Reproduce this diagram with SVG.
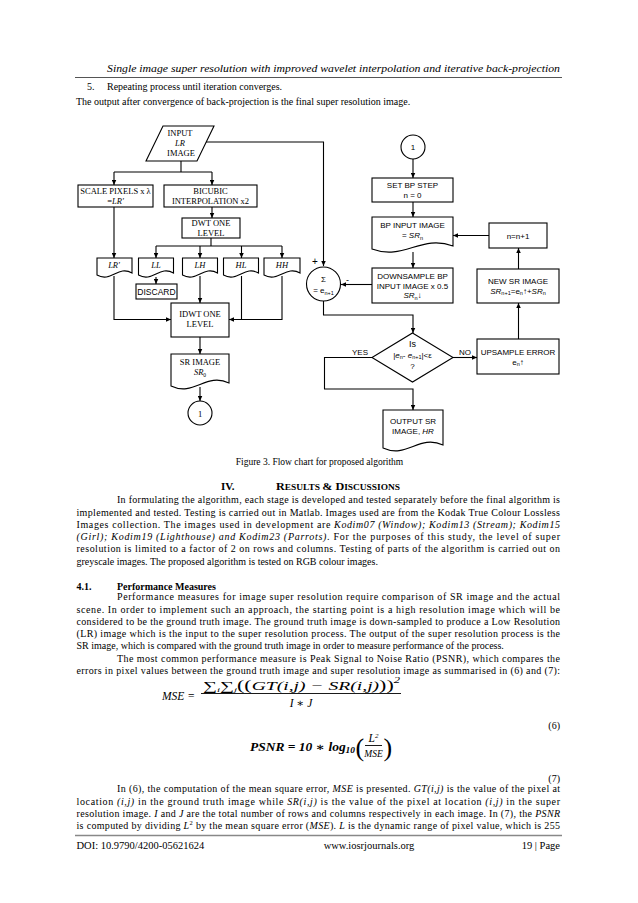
<svg xmlns="http://www.w3.org/2000/svg" width="638" height="903" viewBox="0 0 638 903">
<defs>
<marker id="ah" viewBox="0 0 10 10" refX="10" refY="5" markerWidth="5" markerHeight="5" orient="auto" markerUnits="userSpaceOnUse"><path d="M0,0.5 L10,5 L0,9.5 z" fill="#000"/></marker>
<style>
.s{fill:#fff;stroke:#000;stroke-width:1.1}
.c{fill:none;stroke:#000;stroke-width:1.1}
.a{marker-end:url(#ah)}
.t{font-family:"Liberation Serif","Times New Roman",serif;font-size:10px;fill:#000}
.fs{font-family:"Liberation Serif","Times New Roman",serif;font-size:8.5px;text-anchor:middle;fill:#000}
.fa{font-family:"Liberation Sans",Arial,sans-serif;font-size:8px;text-anchor:middle;fill:#000}
.eq{font-family:"Liberation Serif","DejaVu Serif",serif;font-size:11.5px;fill:#000}
.i{font-style:italic}
.b{font-weight:bold}
.sub{font-size:5.5px}
</style>
</defs>
<rect width="638" height="903" fill="#fff"/>

<!-- page header -->
<g id="page-header">
<text class="t i" x="107" y="72" style="font-size:11px" textLength="453" lengthAdjust="spacingAndGlyphs">Single image super resolution with improved wavelet interpolation and iterative back-projection</text>
<line x1="75" y1="77.5" x2="562" y2="77.5" stroke="#555" stroke-width="1"/>
<text class="t" x="87" y="90">5.</text>
<text class="t" x="107" y="90">Repeating process until iteration converges.</text>
<text class="t" x="76" y="105">The output after convergence of back-projection is the final super resolution image.</text>
</g>

<!-- connectors -->
<g id="connectors">
<polyline class="c a" points="206,142 323.5,142 323.5,266"/>
<polyline class="c" points="181,161 181,172"/>
<polyline class="c" points="114,172 212,172"/>
<line class="c a" x1="114" y1="172" x2="114" y2="185"/>
<line class="c a" x1="212" y1="172" x2="212" y2="185"/>
<line class="c a" x1="212" y1="207" x2="212" y2="218"/>
<polyline class="c" points="211,238 211,246"/>
<polyline class="c" points="156,246 282,246"/>
<line class="c a" x1="156" y1="246" x2="156" y2="258"/>
<line class="c a" x1="200" y1="246" x2="200" y2="258"/>
<line class="c a" x1="241.5" y1="246" x2="241.5" y2="258"/>
<line class="c a" x1="282" y1="246" x2="282" y2="258"/>
<line class="c a" x1="114" y1="207" x2="114" y2="258"/>
<line class="c a" x1="156" y1="277" x2="156" y2="284"/>
<line class="c a" x1="200" y1="276" x2="200" y2="303"/>
<polyline class="c a" points="114,276 114,319.5 171,319.5"/>
<polyline class="c a" points="241.5,276 241.5,319.5 229,319.5"/>
<polyline class="c" points="282,276 282,319.5 241.5,319.5"/>
<line class="c a" x1="200" y1="337" x2="200" y2="354"/>
<line class="c a" x1="200" y1="387" x2="200" y2="401"/>
<line class="c a" x1="413" y1="159" x2="413" y2="178"/>
<line class="c a" x1="413" y1="202" x2="413" y2="217"/>
<line class="c a" x1="413" y1="252" x2="413" y2="268"/>
<line class="c a" x1="372" y1="284.5" x2="341" y2="284.5"/>
<line class="c a" x1="489" y1="235.5" x2="453" y2="235.5"/>
<line class="c a" x1="518.5" y1="269" x2="518.5" y2="248"/>
<line class="c a" x1="518.5" y1="339" x2="518.5" y2="303"/>
<polyline class="c a" points="323.5,301 323.5,315 413,315 413,333"/>
<polyline class="c a" points="372,357.5 324.5,357.5 324.5,389 413,389 413,410"/>
<line class="c a" x1="453" y1="357.5" x2="477" y2="357.5"/>
<text class="fa" x="360" y="354.5">YES</text>
<text class="fa" x="465" y="354.5">NO</text>
<text class="fa" x="315" y="264.5" style="font-size:10px">+</text>
<text class="fa" x="347.5" y="283" style="font-size:9px">-</text>
</g>

<!-- left column nodes -->
<g id="input-lr-image">
<polygon class="s" points="163,126 214,126 197,161 146,161"/>
<text class="fs" x="180" y="136">INPUT</text>
<text class="fs i" x="180" y="146">LR</text>
<text class="fs" x="181" y="156">IMAGE</text>
</g>
<g id="scale-pixels">
<rect class="s" x="78" y="185" width="75" height="22"/>
<text class="fs" x="115.5" y="193.7">SCALE PIXELS x λ</text>
<text class="fs" x="115.5" y="203.7">=<tspan class="i">LR'</tspan></text>
</g>
<g id="bicubic">
<rect class="s" x="164" y="185" width="93" height="22"/>
<text class="fs" x="210.5" y="193.7">BICUBIC</text>
<text class="fs" x="210.5" y="203.7">INTERPOLATION x2</text>
</g>
<g id="dwt">
<rect class="s" x="182" y="218" width="58" height="20"/>
<text class="fs" x="211" y="226.3">DWT ONE</text>
<text class="fs" x="211" y="236.3">LEVEL</text>
</g>
<g id="band-lr">
<path class="s" d="M97,258 H132 V273 C118,265 111,283 97,275 Z"/>
<text class="fs i" x="114" y="268">LR'</text>
</g>
<g id="band-ll">
<path class="s" d="M138.5,258 H173.5 V273 C159.5,265 152.5,283 138.5,275 Z"/>
<text class="fs i" x="156" y="268">LL</text>
</g>
<g id="band-lh">
<path class="s" d="M182.5,258 H217.5 V273 C203.5,265 196.5,283 182.5,275 Z"/>
<text class="fs i" x="200" y="268">LH</text>
</g>
<g id="band-hl">
<path class="s" d="M223.5,258 H258.5 V273 C244.5,265 237.5,283 223.5,275 Z"/>
<text class="fs i" x="241" y="268">HL</text>
</g>
<g id="band-hh">
<path class="s" d="M264,258 H300 V273 C286,265 278,283 264,275 Z"/>
<text class="fs i" x="282" y="268">HH</text>
</g>
<g id="discard">
<rect class="s" x="136" y="284" width="41" height="15"/>
<text class="fa" x="156.5" y="294.5" style="font-size:8.5px">DISCARD</text>
</g>
<g id="idwt">
<rect class="s" x="171" y="303" width="58" height="34"/>
<text class="fs" x="200" y="317.3">IDWT ONE</text>
<text class="fs" x="200" y="327.3">LEVEL</text>
</g>
<g id="sr-image">
<path class="s" d="M171,354 H229 V383 C206,372 194,397 171,386 Z"/>
<text class="fs" x="200" y="365.3">SR IMAGE</text>
<text class="fs" x="200" y="375.3"><tspan class="i">SR</tspan><tspan class="sub" dy="1.5">0</tspan></text>
</g>
<g id="connector-1-left">
<circle class="s" cx="200" cy="413" r="12"/>
<text class="fs" x="200" y="416.5">1</text>
</g>

<!-- right column nodes -->
<g id="connector-1-right">
<circle class="s" cx="413" cy="147" r="12"/>
<text class="fa" x="413" y="150">1</text>
</g>
<g id="set-bp-step">
<rect class="s" x="372" y="178" width="81" height="24"/>
<text class="fa" x="412.5" y="188">SET BP STEP</text>
<text class="fa" x="412.5" y="198">n = 0</text>
</g>
<g id="bp-input-image">
<path class="s" d="M372,217 H453 V246 C421,234 404,261 372,249 Z"/>
<text class="fa" x="412.5" y="228">BP INPUT IMAGE</text>
<text class="fa" x="412.5" y="238">= <tspan class="i">SR</tspan><tspan class="sub" dy="1.5">n</tspan></text>
</g>
<g id="downsample">
<rect class="s" x="372" y="268" width="81" height="35"/>
<text class="fa" x="412.5" y="279">DOWNSAMPLE BP</text>
<text class="fa" x="412.5" y="288.7">INPUT IMAGE x 0.5</text>
<text class="fa" x="412.5" y="298"><tspan class="i">SR</tspan><tspan class="sub" dy="1.5">n</tspan><tspan dy="-1.5">↓</tspan></text>
</g>
<g id="sum">
<circle class="s" cx="323.5" cy="284" r="17"/>
<text class="fa" x="323.5" y="282.3">Σ</text>
<text class="fa" x="323.5" y="293">= e<tspan class="sub" dy="1.5">n+1</tspan></text>
</g>
<g id="n-increment">
<rect class="s" x="489" y="223" width="58" height="25"/>
<text class="fa" x="518" y="238.7">n=n+1</text>
</g>
<g id="new-sr-image">
<rect class="s" x="477" y="269" width="82" height="34"/>
<text class="fa" x="518" y="284">NEW SR IMAGE</text>
<text class="fa" x="518" y="293.7"><tspan class="i">SR</tspan><tspan class="sub" dy="1.5">n+1</tspan><tspan dy="-1.5">=e</tspan><tspan class="sub" dy="1.5">n</tspan><tspan dy="-1.5">↑+</tspan><tspan class="i">SR</tspan><tspan class="sub" dy="1.5">n</tspan></text>
</g>
<g id="converged">
<polygon class="s" points="412.5,333 453,357.5 412.5,382 372,357.5"/>
<text class="fa" x="412.5" y="346.5" style="font-size:9px">Is</text>
<text class="fa" x="412.5" y="357.5">|<tspan class="i">e</tspan><tspan class="sub" dy="1.5">n</tspan><tspan dy="-1.5">- </tspan><tspan class="i">e</tspan><tspan class="sub" dy="1.5">n+1</tspan><tspan dy="-1.5">|&lt;ε</tspan></text>
<text class="fa" x="412.5" y="369">?</text>
</g>
<g id="upsample-error">
<rect class="s" x="477" y="339" width="82" height="35"/>
<text class="fa" x="518" y="354.7">UPSAMPLE ERROR</text>
<text class="fa" x="518" y="364.7">e<tspan class="sub" dy="1.5">n</tspan><tspan dy="-1.5">↑</tspan></text>
</g>
<g id="output-sr-image">
<path class="s" d="M383,410 H443 V445 C419,434 407,459 383,448 Z"/>
<text class="fa" x="413" y="423.7">OUTPUT SR</text>
<text class="fa" x="413" y="433.7">IMAGE, <tspan class="i">HR</tspan></text>
</g>

<!-- caption and body -->
<g id="body-text">
<text class="t" x="319.5" y="464.5" text-anchor="middle" style="font-size:9.5px">Figure 3. Flow chart for proposed algorithm</text>
<text class="t b" x="221" y="490" style="font-size:11px">IV.</text>
<text class="t b" x="276" y="490" textLength="124" lengthAdjust="spacingAndGlyphs"><tspan font-size="11">R</tspan><tspan font-size="8.5">ESULTS </tspan><tspan font-size="11">&amp; D</tspan><tspan font-size="8.5">ISCUSSIONS</tspan></text>

<text class="t" x="117" y="503.3" textLength="443" lengthAdjust="spacing">In formulating the algorithm, each stage is developed and tested separately before the final algorithm is</text>
<text class="t" x="76.5" y="515.6" textLength="483.5" lengthAdjust="spacing">implemented and tested. Testing is carried out in Matlab. Images used are from the Kodak True Colour Lossless</text>
<text class="t" x="76.5" y="527.8" textLength="483.5" lengthAdjust="spacing">Images collection. The images used in development are <tspan class="i">Kodim07 (Window); Kodim13 (Stream); Kodim15</tspan></text>
<text class="t" x="76.5" y="540.1" textLength="483.5" lengthAdjust="spacing"><tspan class="i">(Girl); Kodim19 (Lighthouse) and Kodim23 (Parrots)</tspan>. For the purposes of this study, the level of super</text>
<text class="t" x="76.5" y="552.3" textLength="483.5" lengthAdjust="spacing">resolution is limited to a factor of 2 on rows and columns. Testing of parts of the algorithm is carried out on</text>
<text class="t" x="76.5" y="564.5">greyscale images. The proposed algorithm is tested on RGB colour images.</text>

<text class="t b" x="76.5" y="589.5">4.1.</text>
<text class="t b" x="117" y="589.5">Performance Measures</text>

<text class="t" x="117" y="600.3" textLength="443" lengthAdjust="spacing">Performance measures for image super resolution require comparison of SR image and the actual</text>
<text class="t" x="76.5" y="612.6" textLength="483.5" lengthAdjust="spacing">scene. In order to implement such an approach, the starting point is a high resolution image which will be</text>
<text class="t" x="76.5" y="624.8" textLength="483.5" lengthAdjust="spacing">considered to be the ground truth image. The ground truth image is down-sampled to produce a Low Resolution</text>
<text class="t" x="76.5" y="637.1" textLength="483.5" lengthAdjust="spacing">(LR) image which is the input to the super resolution process. The output of the super resolution process is the</text>
<text class="t" x="76.5" y="649.3">SR image, which is compared with the ground truth image in order to measure performance of the process.</text>
<text class="t" x="117" y="661.6" textLength="443" lengthAdjust="spacing">The most common performance measure is Peak Signal to Noise Ratio (PSNR), which compares the</text>
<text class="t" x="76.5" y="673.8" textLength="483.5" lengthAdjust="spacing">errors in pixel values between the ground truth image and super resolution image as summarised in (6) and (7):</text>
</g>

<g id="equation-6">
<text class="eq i" x="162" y="700">MSE =</text>
<text class="eq i" x="203" y="689.5" style="font-size:12.5px" textLength="197" lengthAdjust="spacingAndGlyphs"><tspan font-style="normal">∑</tspan><tspan font-size="7" dy="2">i</tspan><tspan font-style="normal" dy="-2">∑</tspan><tspan font-size="7" dy="2">j</tspan><tspan font-style="normal" font-size="14" dy="-2">((</tspan>GT(i,j) − SR(i,j)<tspan font-style="normal" font-size="14">))</tspan><tspan font-size="8" dy="-7">2</tspan></text>
<line x1="201" y1="693.5" x2="401" y2="693.5" stroke="#000" stroke-width="0.9"/>
<text class="eq i" x="301" y="706.5" text-anchor="middle">I ∗ J</text>
<text class="t" x="560" y="728.5" text-anchor="end">(6)</text>
</g>

<g id="equation-7">
<text class="eq i b" x="250" y="750.5" textLength="105" lengthAdjust="spacingAndGlyphs">PSNR = 10 ∗ log<tspan font-size="8" dy="2">10</tspan></text>
<text class="eq" x="355.5" y="756" style="font-size:26px">(</text>
<text class="eq i" x="373.5" y="742" text-anchor="middle">L<tspan font-size="7" dy="-4">2</tspan></text>
<line x1="365" y1="745.5" x2="382" y2="745.5" stroke="#000" stroke-width="0.9"/>
<text class="eq i" x="373.5" y="756.5" text-anchor="middle" style="font-size:9.5px">MSE</text>
<text class="eq" x="383.5" y="756" style="font-size:26px">)</text>
<text class="t" x="560" y="781.5" text-anchor="end">(7)</text>
</g>

<g id="body-text-2">
<text class="t" x="117" y="792.3" textLength="443" lengthAdjust="spacing">In (6), the computation of the mean square error, <tspan class="i">MSE</tspan> is presented. <tspan class="i">GT(i,j)</tspan> is the value of the pixel at</text>
<text class="t" x="76.5" y="804.6" textLength="483.5" lengthAdjust="spacing">location <tspan class="i">(i,j)</tspan> in the ground truth image while <tspan class="i">SR(i,j)</tspan> is the value of the pixel at location <tspan class="i">(i,j)</tspan> in the super</text>
<text class="t" x="76.5" y="816.8" textLength="483.5" lengthAdjust="spacing">resolution image. <tspan class="i">I</tspan> and <tspan class="i">J</tspan> are the total number of rows and columns respectively in each image. In (7), the <tspan class="i">PSNR</tspan></text>
<text class="t" x="76.5" y="829.1" textLength="483.5" lengthAdjust="spacing">is computed by dividing <tspan class="i">L</tspan><tspan font-size="6.5" dy="-4">2</tspan><tspan dy="4"> by the mean square error (</tspan><tspan class="i">MSE</tspan>). <tspan class="i">L</tspan> is the dynamic range of pixel value, which is 255</text>
</g>

<g id="page-footer">
<line x1="75" y1="835.5" x2="562" y2="835.5" stroke="#888" stroke-width="1.5"/>
<text class="t" x="76.5" y="848.5" style="font-size:10.5px">DOI: 10.9790/4200-05621624</text>
<text class="t" x="369" y="848.5" style="font-size:10.5px" text-anchor="middle">www.iosrjournals.org</text>
<text class="t" x="560" y="848.5" style="font-size:10.5px" text-anchor="end">19 | Page</text>
</g>
</svg>
